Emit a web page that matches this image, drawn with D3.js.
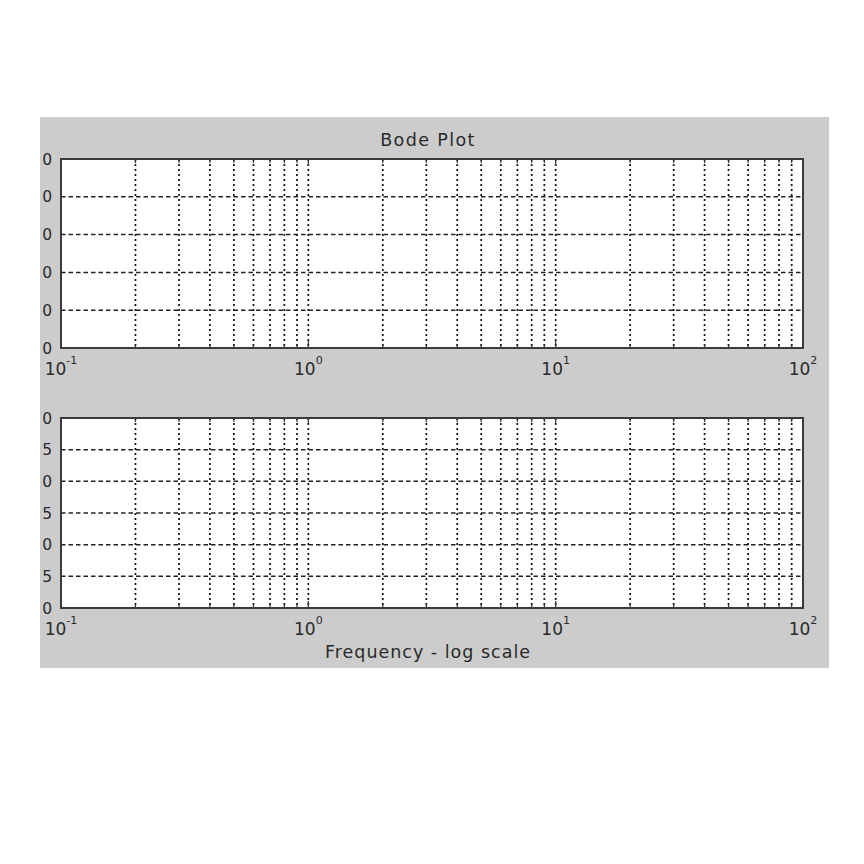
<!DOCTYPE html>
<html>
<head>
<meta charset="utf-8">
<script src="https://cdn.jsdelivr.net/npm/d3@7"></script>
<style>
  body { margin: 0; background: #fff; }
  text { font-family: "DejaVu Sans", sans-serif; fill: #2a2a2a; }
</style>
</head>
<body>
<div id="chart"></div>
<script>
// x axis: decades of frequency
var freqDomain = [0.1, 100];
var decadeTicks = [0.1, 1, 10, 100];
var decadeExp = ["-1", "0", "1", "2"];

// y axes (only the last digit of each label is visible in the figure)
var magTicks = [0, 1, 2, 3, 4, 5];
var magLabels = ["0", "0", "0", "0", "0", "0"];
var phaseTicks = [0, 1, 2, 3, 4, 5, 6];
var phaseLabels = ["0", "5", "0", "5", "0", "5", "0"];

var title = "Bode Plot";
var xLabel = "Frequency - log scale";

var w = 864, h = 864;

var svg = d3.select("#chart")
    .append("svg")
    .attr("width", w)
    .attr("height", h);

// gray figure background
svg.append("rect")
    .attr("x", 40).attr("y", 117)
    .attr("width", 789).attr("height", 551)
    .attr("fill", "#cccccc");

var left = 61, right = 803;

var xScale = d3.scaleLog()
    .domain(freqDomain)
    .range([left, right]);

// all grid frequencies 1..9 x each decade
var gridFreqs = [];
decadeTicks.slice(0, 3).forEach(function(d) {
    for (var k = 1; k <= 9; k++) gridFreqs.push(d * k);
});
gridFreqs.push(100);

function panel(top, bottom, ticks, labels) {
    var yScale = d3.scaleLinear()
        .domain([ticks[0], ticks[ticks.length - 1]])
        .range([top, bottom]);

    var g = svg.append("g");

    g.append("rect")
        .attr("x", left).attr("y", top)
        .attr("width", right - left).attr("height", bottom - top)
        .attr("fill", "#fff");

    // vertical grid
    g.selectAll(".vgrid")
        .data(gridFreqs.filter(function(d) { return d > 0.1 && d < 100; }))
        .enter().append("line")
        .attr("x1", function(d) { return xScale(d); })
        .attr("x2", function(d) { return xScale(d); })
        .attr("y1", top).attr("y2", bottom)
        .attr("stroke", "#111")
        .attr("stroke-width", 1.7)
        .attr("stroke-dasharray", "2,3");

    // horizontal grid
    g.selectAll(".hgrid")
        .data(ticks.slice(1, ticks.length - 1))
        .enter().append("line")
        .attr("x1", left).attr("x2", right)
        .attr("y1", function(d) { return yScale(d); })
        .attr("y2", function(d) { return yScale(d); })
        .attr("stroke", "#222")
        .attr("stroke-width", 1.5)
        .attr("stroke-dasharray", "4.5,3");

    // minor ticks along top and bottom
    g.selectAll(".tickb")
        .data(gridFreqs)
        .enter().append("line")
        .attr("x1", function(d) { return xScale(d); })
        .attr("x2", function(d) { return xScale(d); })
        .attr("y1", function(d) { return decadeTicks.indexOf(d) >= 0 ? bottom - 7 : bottom - 4; })
        .attr("y2", bottom)
        .attr("stroke", "#333").attr("stroke-width", 1.2);
    g.selectAll(".tickt")
        .data(gridFreqs)
        .enter().append("line")
        .attr("x1", function(d) { return xScale(d); })
        .attr("x2", function(d) { return xScale(d); })
        .attr("y1", top)
        .attr("y2", function(d) { return decadeTicks.indexOf(d) >= 0 ? top + 7 : top + 4; })
        .attr("stroke", "#333").attr("stroke-width", 1.2);

    // border
    g.append("rect")
        .attr("x", left).attr("y", top)
        .attr("width", right - left).attr("height", bottom - top)
        .attr("fill", "none")
        .attr("stroke", "#3a3a3a")
        .attr("stroke-width", 2);

    // y labels
    g.selectAll(".ylab")
        .data(ticks)
        .enter().append("text")
        .attr("x", 52)
        .attr("y", function(d) { return yScale(d) + 5.5; })
        .attr("text-anchor", "end")
        .attr("font-size", 15.5)
        .text(function(d, i) { return labels[i]; });

    // x labels 10^n, whole label centred on the tick
    var xl = g.selectAll(".xlab")
        .data(decadeTicks)
        .enter().append("text")
        .attr("x", function(d) { return xScale(d); })
        .attr("y", bottom + 27)
        .attr("text-anchor", "middle")
        .attr("font-size", 17);
    xl.append("tspan").text("10");
    xl.append("tspan")
        .attr("dy", -11)
        .attr("font-size", 11)
        .text(function(d, i) { return decadeExp[i]; });
}

panel(159, 348, magTicks, magLabels);
panel(418, 608, phaseTicks, phaseLabels);

svg.append("text")
    .attr("x", 428).attr("y", 146)
    .attr("text-anchor", "middle")
    .attr("font-size", 17.5)
    .attr("letter-spacing", 1.4)
    .text(title);

svg.append("text")
    .attr("x", 428).attr("y", 658)
    .attr("text-anchor", "middle")
    .attr("font-size", 17.5)
    .attr("letter-spacing", 1)
    .text(xLabel);
</script>
</body>
</html>
